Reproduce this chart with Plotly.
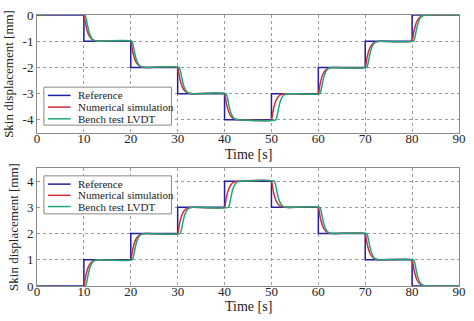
import plotly.graph_objects as go
from plotly.subplots import make_subplots

# ---- data ----
step_times = [10, 20, 30, 40, 50, 60, 70, 80]
levels_top = [0, -1, -2, -3, -4, -3, -2, -1, 0]
levels_bot = [0, 1, 2, 3, 4, 3, 2, 1, 0]

# transient of the numerical simulation after each step (time offset [s], fraction done)
sim_dt = [0, 0.15, 0.4, 0.7, 1.0, 1.4, 1.9, 2.5, 3.2]
sim_frac = [0, 0.12, 0.38, 0.6, 0.75, 0.87, 0.95, 0.985, 1.0]
# transient of the bench test LVDT (after its delay)
lvdt_dt = [0, 0.3, 0.6, 0.9, 1.2, 1.6, 2.1, 2.8]
lvdt_frac = [0, 0.15, 0.42, 0.65, 0.8, 0.92, 0.98, 1.0]
lvdt_delay_top = [0.2, 0.2, 0.3, 0.3, 0.9, 0.3, 0.3, 0.3]
lvdt_delay_bot = [0.3, 0.3, 0.5, 0.8, 0.6, 0.3, 0.3, 0.3]

series_names = ["Reference", "Numerical simulation", "Bench test LVDT"]
xticks = [0, 10, 20, 30, 40, 50, 60, 70, 80, 90]
yticks_top = [0, -1, -2, -3, -4]
yticks_bot = [0, 1, 2, 3, 4]

t_end = 90


def reference(levels):
    xs, ys = [0], [levels[0]]
    for i, t in enumerate(step_times):
        xs += [t, t]
        ys += [levels[i], levels[i + 1]]
    xs.append(t_end)
    ys.append(levels[-1])
    return xs, ys


def response(levels, dts, fracs, delays):
    xs, ys = [0], [levels[0]]
    for i, t in enumerate(step_times):
        d = delays[i]
        a, b = levels[i], levels[i + 1]
        for dt, f in zip(dts, fracs):
            xs.append(t + d + dt)
            ys.append(a + (b - a) * f)
    xs.append(t_end)
    ys.append(levels[-1])
    return xs, ys


fig = make_subplots(rows=2, cols=1, vertical_spacing=0.0)

COLORS = ["#1f1f9f", "#d42a3a", "#1fa67a"]
FONT = "Liberation Serif, Times New Roman, serif"
TXT = "#222"

for row, levels, delays in [(1, levels_top, lvdt_delay_top),
                            (2, levels_bot, lvdt_delay_bot)]:
    rx, ry = reference(levels)
    sx, sy = response(levels, sim_dt, sim_frac, [0] * 8)
    lx, ly = response(levels, lvdt_dt, lvdt_frac, delays)
    fig.add_trace(go.Scatter(x=rx, y=ry, mode="lines", name=series_names[0],
                             line=dict(color=COLORS[0], width=1.5)), row=row, col=1)
    fig.add_trace(go.Scatter(x=sx, y=sy, mode="lines", name=series_names[1],
                             line=dict(color=COLORS[1], width=1.5, shape="spline", smoothing=0.6)),
                  row=row, col=1)
    fig.add_trace(go.Scatter(x=lx, y=ly, mode="lines", name=series_names[2],
                             line=dict(color=COLORS[2], width=1.5, shape="spline", smoothing=0.6)),
                  row=row, col=1)

axis_common = dict(showgrid=True, gridcolor="#9a9a9a", griddash="dot", gridwidth=1,
                   showline=True, linecolor="#8a8a8a", linewidth=1, mirror=True,
                   zeroline=False, ticks="", tickfont=dict(family=FONT, size=13, color=TXT))

fig.update_xaxes(range=[0, 90], tickvals=xticks, ticktext=[str(v) for v in xticks],
                 ticklabelstandoff=-7, **axis_common)
fig.update_yaxes(**axis_common)
fig.update_yaxes(range=[-4.5, 0], tickvals=yticks_top, ticktext=[str(v) for v in yticks_top],
                 title=dict(text="Skin displacement [mm]", font=dict(family=FONT, size=13, color=TXT),
                            standoff=5),
                 row=1, col=1)
fig.update_yaxes(range=[0, 4.5], tickvals=yticks_bot, ticktext=[str(v) for v in yticks_bot],
                 title=dict(text="Skin displacement [mm]", font=dict(family=FONT, size=13, color=TXT),
                            standoff=5),
                 row=2, col=1)

# plot area in pixels: x 35..462, y 8..286
L, R, T, B = 35, 462, 8, 286
W, H = R - L, B - T


def px(x):
    return (x - L) / W


def py(y):
    return (B - y) / H


# x-axis titles
for ty in [151, 307]:
    fig.add_annotation(xref="paper", yref="paper", x=0.5, y=py(ty),
                       xanchor="center", yanchor="middle", showarrow=False,
                       text="Time [s]", font=dict(family=FONT, size=14, color=TXT))

# custom compact legends (box, line samples, labels)
for box_top, rows_y in [(82, [90.5, 102.5, 114.5]), (173, [181.5, 193, 204.5])]:
    fig.add_shape(type="rect", xref="paper", yref="paper",
                  x0=px(42), x1=px(171), y0=py(box_top), y1=py(box_top + 39),
                  line=dict(color="#888", width=1), fillcolor="white", layer="above")
    for k, ry_ in enumerate(rows_y):
        fig.add_shape(type="line", xref="paper", yref="paper",
                      x0=px(46), x1=px(69), y0=py(ry_), y1=py(ry_),
                      line=dict(color=COLORS[k], width=1.5), layer="above")
        fig.add_annotation(xref="paper", yref="paper", x=px(74), y=py(ry_),
                           xanchor="left", yanchor="middle", showarrow=False,
                           text=series_names[k], font=dict(family=FONT, size=11, color=TXT))

fig.update_layout(
    width=474, height=321,
    margin=dict(l=L, r=474 - R, t=T, b=321 - B),
    paper_bgcolor="white", plot_bgcolor="white",
    font=dict(family=FONT, color=TXT),
    showlegend=False,
)
fig.layout.yaxis.domain = [py(129), 1.0]
fig.layout.yaxis2.domain = [0.0, py(165)]

fig.write_html("out.html")
